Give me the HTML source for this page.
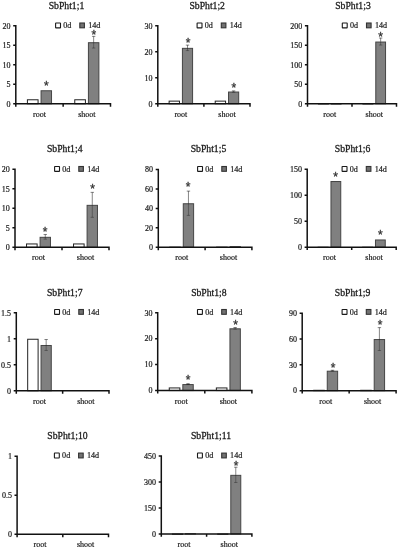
<!DOCTYPE html>
<html><head><meta charset="utf-8"><title>SbPht1 expression</title>
<style>
html,body{margin:0;padding:0;background:#fff;}
body{width:399px;height:550px;overflow:hidden;}
svg{display:block;}
text{font-family:"Liberation Serif","Times New Roman",serif;fill:#1a1a1a;stroke:#1a1a1a;stroke-width:0.2px;}
.t{font-size:9.7px;stroke-width:0.28px;}
.k{font-size:8px;}
.l{font-size:8.1px;}
.c{font-size:8px;}
.s{font-size:12px;font-family:"Liberation Sans",sans-serif;fill:#333;stroke:#333;stroke-width:0.3px;}
</style></head><body>
<svg width="399" height="550" viewBox="0 0 399 550">
<rect width="399" height="550" fill="#fff"/>
<g>
<text class="t" x="66.5" y="9" text-anchor="middle">SbPht1;1</text>
<rect x="27.41" y="99.77" width="10.66" height="3.98" fill="#fff" stroke="#222" stroke-width="1"/>
<rect x="41.07" y="90.76" width="10.46" height="12.99" fill="#808080" stroke="#454545" stroke-width="1"/>
<rect x="74.76" y="99.77" width="10.66" height="3.98" fill="#fff" stroke="#222" stroke-width="1"/>
<rect x="88.42" y="42.71" width="10.46" height="61.04" fill="#808080" stroke="#454545" stroke-width="1"/>
<path d="M93.65 36.36V42.21M91.95 36.36H95.35" stroke="#000" stroke-opacity="0.6" stroke-width="0.8" fill="none"/>
<path d="M93.65 42.21V48.06M91.95 48.06H95.35" stroke="#000" stroke-opacity="0.38" stroke-width="0.8" fill="none"/>
<path d="M15.8 25.75V103.75H110.5M13.2 103.75H16.55M13.2 84.25H16.55M13.2 64.75H16.55M13.2 45.25H16.55M13.2 25.75H16.55M15.8 103V106.65M63.15 103V106.65M110.5 103V106.65" stroke="#111" stroke-width="1.5" fill="none" stroke-linecap="butt" stroke-linejoin="miter"/>
<text class="k" x="10.6" y="106.5" text-anchor="end">0</text>
<text class="k" x="10.6" y="87" text-anchor="end">5</text>
<text class="k" x="10.6" y="67.5" text-anchor="end">10</text>
<text class="k" x="10.6" y="48" text-anchor="end">15</text>
<text class="k" x="10.6" y="28.5" text-anchor="end">20</text>
<text class="c" x="39.48" y="116.85" text-anchor="middle">root</text>
<text class="c" x="86.83" y="116.85" text-anchor="middle">shoot</text>
<rect x="55.6" y="22.95" width="4.9" height="4.9" rx="0.4" fill="#fff" stroke="#1a1a1a" stroke-width="1.1"/>
<text class="l" x="63.3" y="28.2">0d</text>
<rect x="79.8" y="23" width="4.6" height="4.8" fill="#727272" stroke="#333" stroke-width="1.1"/>
<text class="l" x="88.2" y="28.2">14d</text>
<text class="s" x="46.25" y="89.5" text-anchor="middle">*</text>
<text class="s" x="93.75" y="38.8" text-anchor="middle">*</text>
</g>
<g>
<text class="t" x="207.2" y="9" text-anchor="middle">SbPht1;2</text>
<rect x="169.12" y="101.13" width="10.36" height="2.62" fill="#fff" stroke="#222" stroke-width="1"/>
<rect x="182.42" y="48.35" width="10.16" height="55.4" fill="#808080" stroke="#454545" stroke-width="1"/>
<path d="M187.5 45.12V47.85M185.8 45.12H189.2" stroke="#000" stroke-opacity="0.6" stroke-width="0.8" fill="none"/>
<path d="M187.5 47.85V50.58M185.8 50.58H189.2" stroke="#000" stroke-opacity="0.38" stroke-width="0.8" fill="none"/>
<rect x="215.22" y="101.13" width="10.36" height="2.62" fill="#fff" stroke="#222" stroke-width="1"/>
<rect x="228.52" y="92.03" width="10.16" height="11.72" fill="#808080" stroke="#454545" stroke-width="1"/>
<path d="M233.6 90.88V91.53M231.9 90.88H235.3" stroke="#000" stroke-opacity="0.6" stroke-width="0.8" fill="none"/>
<path d="M233.6 91.53V92.18M231.9 92.18H235.3" stroke="#000" stroke-opacity="0.38" stroke-width="0.8" fill="none"/>
<path d="M157.8 25.75V103.75H250M155.2 103.75H158.55M155.2 77.75H158.55M155.2 51.75H158.55M155.2 25.75H158.55M157.8 103V106.65M203.9 103V106.65M250 103V106.65" stroke="#111" stroke-width="1.5" fill="none" stroke-linecap="butt" stroke-linejoin="miter"/>
<text class="k" x="152.6" y="106.5" text-anchor="end">0</text>
<text class="k" x="152.6" y="80.5" text-anchor="end">10</text>
<text class="k" x="152.6" y="54.5" text-anchor="end">20</text>
<text class="k" x="152.6" y="28.5" text-anchor="end">30</text>
<text class="c" x="180.85" y="116.85" text-anchor="middle">root</text>
<text class="c" x="226.95" y="116.85" text-anchor="middle">shoot</text>
<rect x="197.1" y="22.95" width="4.9" height="4.9" rx="0.4" fill="#fff" stroke="#1a1a1a" stroke-width="1.1"/>
<text class="l" x="204.8" y="28.2">0d</text>
<rect x="221.3" y="23" width="4.6" height="4.8" fill="#727272" stroke="#333" stroke-width="1.1"/>
<text class="l" x="229.7" y="28.2">14d</text>
<text class="s" x="188" y="46.8" text-anchor="middle">*</text>
<text class="s" x="233.8" y="92.4" text-anchor="middle">*</text>
</g>
<g>
<text class="t" x="353" y="9" text-anchor="middle">SbPht1;3</text>
<rect x="318.45" y="103.78" width="9.96" height="0.2" fill="#fff" stroke="#222" stroke-width="1"/>
<rect x="331.28" y="103.86" width="9.77" height="0.2" fill="#808080" stroke="#454545" stroke-width="1"/>
<rect x="362.95" y="103.78" width="9.96" height="0.2" fill="#fff" stroke="#222" stroke-width="1"/>
<rect x="375.78" y="42.04" width="9.77" height="61.71" fill="#808080" stroke="#454545" stroke-width="1"/>
<path d="M380.67 38.03V41.54M378.97 38.03H382.37" stroke="#000" stroke-opacity="0.6" stroke-width="0.8" fill="none"/>
<path d="M380.67 41.54V45.05M378.97 45.05H382.37" stroke="#000" stroke-opacity="0.38" stroke-width="0.8" fill="none"/>
<path d="M307.5 25.75V103.75H396.5M304.9 103.75H308.25M304.9 84.25H308.25M304.9 64.75H308.25M304.9 45.25H308.25M304.9 25.75H308.25M307.5 103V106.65M352 103V106.65M396.5 103V106.65" stroke="#111" stroke-width="1.5" fill="none" stroke-linecap="butt" stroke-linejoin="miter"/>
<text class="k" x="302.3" y="106.5" text-anchor="end">0</text>
<text class="k" x="302.3" y="87" text-anchor="end">50</text>
<text class="k" x="302.3" y="67.5" text-anchor="end">100</text>
<text class="k" x="302.3" y="48" text-anchor="end">150</text>
<text class="k" x="302.3" y="28.5" text-anchor="end">200</text>
<text class="c" x="329.75" y="116.85" text-anchor="middle">root</text>
<text class="c" x="374.25" y="116.85" text-anchor="middle">shoot</text>
<rect x="342.3" y="22.95" width="4.9" height="4.9" rx="0.4" fill="#fff" stroke="#1a1a1a" stroke-width="1.1"/>
<text class="l" x="350" y="28.2">0d</text>
<rect x="366.5" y="23" width="4.6" height="4.8" fill="#727272" stroke="#333" stroke-width="1.1"/>
<text class="l" x="374.9" y="28.2">14d</text>
<text class="s" x="380.5" y="40.7" text-anchor="middle">*</text>
</g>
<g>
<text class="t" x="64.75" y="152.3" text-anchor="middle">SbPht1;4</text>
<rect x="26.53" y="243.95" width="10.58" height="3.4" fill="#fff" stroke="#222" stroke-width="1"/>
<rect x="40.09" y="237.32" width="10.38" height="10.03" fill="#808080" stroke="#454545" stroke-width="1"/>
<path d="M45.28 234.48V236.82M43.58 234.48H46.98" stroke="#000" stroke-opacity="0.6" stroke-width="0.8" fill="none"/>
<path d="M45.28 236.82V239.16M43.58 239.16H46.98" stroke="#000" stroke-opacity="0.38" stroke-width="0.8" fill="none"/>
<rect x="73.53" y="243.95" width="10.58" height="3.4" fill="#fff" stroke="#222" stroke-width="1"/>
<rect x="87.09" y="205.34" width="10.38" height="42.01" fill="#808080" stroke="#454545" stroke-width="1"/>
<path d="M92.28 192.36V204.84M90.58 192.36H93.98" stroke="#000" stroke-opacity="0.6" stroke-width="0.8" fill="none"/>
<path d="M92.28 204.84V217.32M90.58 217.32H93.98" stroke="#000" stroke-opacity="0.38" stroke-width="0.8" fill="none"/>
<path d="M15 169.35V247.35H109M12.4 247.35H15.75M12.4 227.85H15.75M12.4 208.35H15.75M12.4 188.85H15.75M12.4 169.35H15.75M15 246.6V250.25M62 246.6V250.25M109 246.6V250.25" stroke="#111" stroke-width="1.5" fill="none" stroke-linecap="butt" stroke-linejoin="miter"/>
<text class="k" x="9.8" y="250.1" text-anchor="end">0</text>
<text class="k" x="9.8" y="230.6" text-anchor="end">5</text>
<text class="k" x="9.8" y="211.1" text-anchor="end">10</text>
<text class="k" x="9.8" y="191.6" text-anchor="end">15</text>
<text class="k" x="9.8" y="172.1" text-anchor="end">20</text>
<text class="c" x="38.5" y="260.45" text-anchor="middle">root</text>
<text class="c" x="85.5" y="260.45" text-anchor="middle">shoot</text>
<rect x="54.6" y="166.45" width="4.9" height="4.9" rx="0.4" fill="#fff" stroke="#1a1a1a" stroke-width="1.1"/>
<text class="l" x="62.3" y="171.7">0d</text>
<rect x="78.8" y="166.5" width="4.6" height="4.8" fill="#727272" stroke="#333" stroke-width="1.1"/>
<text class="l" x="87.2" y="171.7">14d</text>
<text class="s" x="45.2" y="236.3" text-anchor="middle">*</text>
<text class="s" x="92.5" y="192.8" text-anchor="middle">*</text>
</g>
<g>
<text class="t" x="208.5" y="152.3" text-anchor="middle">SbPht1;5</text>
<rect x="169.79" y="247.17" width="10.53" height="0.2" fill="#fff" stroke="#222" stroke-width="1"/>
<rect x="183.28" y="203.75" width="10.33" height="43.5" fill="#808080" stroke="#454545" stroke-width="1"/>
<path d="M188.45 191.11V203.25M186.75 191.11H190.15" stroke="#000" stroke-opacity="0.6" stroke-width="0.8" fill="none"/>
<path d="M188.45 203.25V215.39M186.75 215.39H190.15" stroke="#000" stroke-opacity="0.38" stroke-width="0.8" fill="none"/>
<rect x="216.59" y="247.17" width="10.53" height="0.2" fill="#fff" stroke="#222" stroke-width="1"/>
<rect x="230.08" y="246.68" width="10.33" height="0.57" fill="#808080" stroke="#454545" stroke-width="1"/>
<path d="M158.3 169.55V247.25H251.9M155.7 247.25H159.05M155.7 227.82H159.05M155.7 208.4H159.05M155.7 188.98H159.05M155.7 169.55H159.05M158.3 246.5V250.15M205.1 246.5V250.15M251.9 246.5V250.15" stroke="#111" stroke-width="1.5" fill="none" stroke-linecap="butt" stroke-linejoin="miter"/>
<text class="k" x="153.1" y="250" text-anchor="end">0</text>
<text class="k" x="153.1" y="230.57" text-anchor="end">20</text>
<text class="k" x="153.1" y="211.15" text-anchor="end">40</text>
<text class="k" x="153.1" y="191.73" text-anchor="end">60</text>
<text class="k" x="153.1" y="172.3" text-anchor="end">80</text>
<text class="c" x="181.7" y="260.35" text-anchor="middle">root</text>
<text class="c" x="228.5" y="260.35" text-anchor="middle">shoot</text>
<rect x="197.6" y="166.45" width="4.9" height="4.9" rx="0.4" fill="#fff" stroke="#1a1a1a" stroke-width="1.1"/>
<text class="l" x="205.3" y="171.7">0d</text>
<rect x="221.8" y="166.5" width="4.6" height="4.8" fill="#727272" stroke="#333" stroke-width="1.1"/>
<text class="l" x="230.2" y="171.7">14d</text>
<text class="s" x="188" y="190.8" text-anchor="middle">*</text>
</g>
<g>
<text class="t" x="352.6" y="152.3" text-anchor="middle">SbPht1;6</text>
<rect x="318.15" y="247.24" width="9.96" height="0.2" fill="#fff" stroke="#222" stroke-width="1"/>
<rect x="330.98" y="181.52" width="9.77" height="65.63" fill="#808080" stroke="#454545" stroke-width="1"/>
<rect x="362.65" y="247.24" width="9.96" height="0.2" fill="#fff" stroke="#222" stroke-width="1"/>
<rect x="375.48" y="239.97" width="9.77" height="7.18" fill="#808080" stroke="#454545" stroke-width="1"/>
<path d="M307.2 169.35V247.15H396.2M304.6 247.15H307.95M304.6 221.22H307.95M304.6 195.28H307.95M304.6 169.35H307.95M307.2 246.4V250.05M351.7 246.4V250.05M396.2 246.4V250.05" stroke="#111" stroke-width="1.5" fill="none" stroke-linecap="butt" stroke-linejoin="miter"/>
<text class="k" x="302" y="249.9" text-anchor="end">0</text>
<text class="k" x="302" y="223.97" text-anchor="end">50</text>
<text class="k" x="302" y="198.03" text-anchor="end">100</text>
<text class="k" x="302" y="172.1" text-anchor="end">150</text>
<text class="c" x="329.45" y="260.25" text-anchor="middle">root</text>
<text class="c" x="373.95" y="260.25" text-anchor="middle">shoot</text>
<rect x="342.1" y="166.45" width="4.9" height="4.9" rx="0.4" fill="#fff" stroke="#1a1a1a" stroke-width="1.1"/>
<text class="l" x="349.8" y="171.7">0d</text>
<rect x="366.3" y="166.5" width="4.6" height="4.8" fill="#727272" stroke="#333" stroke-width="1.1"/>
<text class="l" x="374.7" y="171.7">14d</text>
<text class="s" x="335.6" y="181.2" text-anchor="middle">*</text>
<text class="s" x="380.4" y="239.3" text-anchor="middle">*</text>
</g>
<g>
<text class="t" x="64.75" y="295.5" text-anchor="middle">SbPht1;7</text>
<rect x="27.68" y="339.25" width="10.42" height="51.5" fill="#fff" stroke="#222" stroke-width="1"/>
<rect x="41.05" y="345.49" width="10.22" height="45.26" fill="#808080" stroke="#454545" stroke-width="1"/>
<path d="M46.16 339.53V344.99M44.46 339.53H47.86" stroke="#000" stroke-opacity="0.6" stroke-width="0.8" fill="none"/>
<path d="M46.16 344.99V350.45M44.46 350.45H47.86" stroke="#000" stroke-opacity="0.38" stroke-width="0.8" fill="none"/>
<path d="M16.3 312.75V390.75H109M13.7 390.75H17.05M13.7 364.75H17.05M13.7 338.75H17.05M13.7 312.75H17.05M16.3 390V393.65M62.65 390V393.65M109 390V393.65" stroke="#111" stroke-width="1.5" fill="none" stroke-linecap="butt" stroke-linejoin="miter"/>
<text class="k" x="11.1" y="393.5" text-anchor="end">0</text>
<text class="k" x="11.1" y="367.5" text-anchor="end">0.5</text>
<text class="k" x="11.1" y="341.5" text-anchor="end">1</text>
<text class="k" x="11.1" y="315.5" text-anchor="end">1.5</text>
<text class="c" x="39.48" y="403.85" text-anchor="middle">root</text>
<text class="c" x="85.83" y="403.85" text-anchor="middle">shoot</text>
<rect x="54.6" y="309.45" width="4.9" height="4.9" rx="0.4" fill="#fff" stroke="#1a1a1a" stroke-width="1.1"/>
<text class="l" x="62.3" y="314.7">0d</text>
<rect x="78.8" y="309.5" width="4.6" height="4.8" fill="#727272" stroke="#333" stroke-width="1.1"/>
<text class="l" x="87.2" y="314.7">14d</text>
</g>
<g>
<text class="t" x="208.9" y="295.5" text-anchor="middle">SbPht1;8</text>
<rect x="169.26" y="387.94" width="10.6" height="2.61" fill="#fff" stroke="#222" stroke-width="1"/>
<rect x="182.84" y="384.57" width="10.4" height="5.98" fill="#808080" stroke="#454545" stroke-width="1"/>
<path d="M188.04 383.68V384.07M186.34 383.68H189.74" stroke="#000" stroke-opacity="0.6" stroke-width="0.8" fill="none"/>
<path d="M188.04 384.07V384.46M186.34 384.46H189.74" stroke="#000" stroke-opacity="0.38" stroke-width="0.8" fill="none"/>
<rect x="216.36" y="387.94" width="10.6" height="2.61" fill="#fff" stroke="#222" stroke-width="1"/>
<rect x="229.94" y="328.81" width="10.4" height="61.74" fill="#808080" stroke="#454545" stroke-width="1"/>
<path d="M235.14 327.53V328.31M233.44 327.53H236.84" stroke="#000" stroke-opacity="0.6" stroke-width="0.8" fill="none"/>
<path d="M235.14 328.31V329.09M233.44 329.09H236.84" stroke="#000" stroke-opacity="0.38" stroke-width="0.8" fill="none"/>
<path d="M157.7 312.75V390.55H251.9M155.1 390.55H158.45M155.1 364.62H158.45M155.1 338.68H158.45M155.1 312.75H158.45M157.7 389.8V393.45M204.8 389.8V393.45M251.9 389.8V393.45" stroke="#111" stroke-width="1.5" fill="none" stroke-linecap="butt" stroke-linejoin="miter"/>
<text class="k" x="152.5" y="393.3" text-anchor="end">0</text>
<text class="k" x="152.5" y="367.37" text-anchor="end">10</text>
<text class="k" x="152.5" y="341.43" text-anchor="end">20</text>
<text class="k" x="152.5" y="315.5" text-anchor="end">30</text>
<text class="c" x="181.25" y="403.65" text-anchor="middle">root</text>
<text class="c" x="228.35" y="403.65" text-anchor="middle">shoot</text>
<rect x="197.5" y="309.45" width="4.9" height="4.9" rx="0.4" fill="#fff" stroke="#1a1a1a" stroke-width="1.1"/>
<text class="l" x="205.2" y="314.7">0d</text>
<rect x="221.7" y="309.5" width="4.6" height="4.8" fill="#727272" stroke="#333" stroke-width="1.1"/>
<text class="l" x="230.1" y="314.7">14d</text>
<text class="s" x="188" y="384.4" text-anchor="middle">*</text>
<text class="s" x="235.6" y="328.8" text-anchor="middle">*</text>
</g>
<g>
<text class="t" x="352.6" y="295.5" text-anchor="middle">SbPht1;9</text>
<rect x="313.72" y="390.29" width="10.56" height="0.36" fill="#fff" stroke="#222" stroke-width="1"/>
<rect x="327.26" y="371.2" width="10.37" height="19.45" fill="#808080" stroke="#454545" stroke-width="1"/>
<path d="M332.45 370.27V370.7M330.75 370.27H334.15" stroke="#000" stroke-opacity="0.6" stroke-width="0.8" fill="none"/>
<path d="M332.45 370.7V371.13M330.75 371.13H334.15" stroke="#000" stroke-opacity="0.38" stroke-width="0.8" fill="none"/>
<rect x="360.67" y="390.29" width="10.56" height="0.36" fill="#fff" stroke="#222" stroke-width="1"/>
<rect x="374.21" y="339.55" width="10.37" height="51.1" fill="#808080" stroke="#454545" stroke-width="1"/>
<path d="M379.4 327.61V339.05M377.7 327.61H381.1" stroke="#000" stroke-opacity="0.6" stroke-width="0.8" fill="none"/>
<path d="M379.4 339.05V350.49M377.7 350.49H381.1" stroke="#000" stroke-opacity="0.38" stroke-width="0.8" fill="none"/>
<path d="M302.2 313.25V390.65H396.1M299.6 390.65H302.95M299.6 364.85H302.95M299.6 339.05H302.95M299.6 313.25H302.95M302.2 389.9V393.55M349.15 389.9V393.55M396.1 389.9V393.55" stroke="#111" stroke-width="1.5" fill="none" stroke-linecap="butt" stroke-linejoin="miter"/>
<text class="k" x="297" y="393.4" text-anchor="end">0</text>
<text class="k" x="297" y="367.6" text-anchor="end">30</text>
<text class="k" x="297" y="341.8" text-anchor="end">60</text>
<text class="k" x="297" y="316" text-anchor="end">90</text>
<text class="c" x="325.68" y="403.75" text-anchor="middle">root</text>
<text class="c" x="372.62" y="403.75" text-anchor="middle">shoot</text>
<rect x="342.1" y="309.45" width="4.9" height="4.9" rx="0.4" fill="#fff" stroke="#1a1a1a" stroke-width="1.1"/>
<text class="l" x="349.8" y="314.7">0d</text>
<rect x="366.3" y="309.5" width="4.6" height="4.8" fill="#727272" stroke="#333" stroke-width="1.1"/>
<text class="l" x="374.7" y="314.7">14d</text>
<text class="s" x="333" y="372.2" text-anchor="middle">*</text>
<text class="s" x="380" y="328.55" text-anchor="middle">*</text>
</g>
<g>
<text class="t" x="67.5" y="439" text-anchor="middle">SbPht1;10</text>
<path d="M17.1 456.25V534.25H108.5M14.5 534.25H17.85M14.5 495.25H17.85M14.5 456.25H17.85M17.1 533.5V537.15M62.8 533.5V537.15M108.5 533.5V537.15" stroke="#111" stroke-width="1.5" fill="none" stroke-linecap="butt" stroke-linejoin="miter"/>
<text class="k" x="11.9" y="537" text-anchor="end">0</text>
<text class="k" x="11.9" y="498" text-anchor="end">0.5</text>
<text class="k" x="11.9" y="459" text-anchor="end">1</text>
<text class="c" x="39.95" y="547.35" text-anchor="middle">root</text>
<text class="c" x="85.65" y="547.35" text-anchor="middle">shoot</text>
<rect x="54.4" y="453.05" width="4.9" height="4.9" rx="0.4" fill="#fff" stroke="#1a1a1a" stroke-width="1.1"/>
<text class="l" x="62.1" y="458.3">0d</text>
<rect x="78.6" y="453.1" width="4.6" height="4.8" fill="#727272" stroke="#333" stroke-width="1.1"/>
<text class="l" x="87" y="458.3">14d</text>
</g>
<g>
<text class="t" x="211" y="439" text-anchor="middle">SbPht1;11</text>
<rect x="172.43" y="534.02" width="10.16" height="0.2" fill="#fff" stroke="#222" stroke-width="1"/>
<rect x="185.5" y="533.76" width="9.97" height="0.2" fill="#808080" stroke="#454545" stroke-width="1"/>
<rect x="217.73" y="534.02" width="10.16" height="0.2" fill="#fff" stroke="#222" stroke-width="1"/>
<rect x="230.8" y="475.34" width="9.97" height="58.61" fill="#808080" stroke="#454545" stroke-width="1"/>
<path d="M235.78 467.22V474.84M234.08 467.22H237.48" stroke="#000" stroke-opacity="0.6" stroke-width="0.8" fill="none"/>
<path d="M235.78 474.84V482.47M234.08 482.47H237.48" stroke="#000" stroke-opacity="0.38" stroke-width="0.8" fill="none"/>
<path d="M161.3 455.95V533.95H251.9M158.7 533.95H162.05M158.7 507.95H162.05M158.7 481.95H162.05M158.7 455.95H162.05M161.3 533.2V536.85M206.6 533.2V536.85M251.9 533.2V536.85" stroke="#111" stroke-width="1.5" fill="none" stroke-linecap="butt" stroke-linejoin="miter"/>
<text class="k" x="156.1" y="536.7" text-anchor="end">0</text>
<text class="k" x="156.1" y="510.7" text-anchor="end">150</text>
<text class="k" x="156.1" y="484.7" text-anchor="end">300</text>
<text class="k" x="156.1" y="458.7" text-anchor="end">450</text>
<text class="c" x="183.95" y="547.05" text-anchor="middle">root</text>
<text class="c" x="229.25" y="547.05" text-anchor="middle">shoot</text>
<rect x="197.5" y="453.05" width="4.9" height="4.9" rx="0.4" fill="#fff" stroke="#1a1a1a" stroke-width="1.1"/>
<text class="l" x="205.2" y="458.3">0d</text>
<rect x="221.7" y="453.1" width="4.6" height="4.8" fill="#727272" stroke="#333" stroke-width="1.1"/>
<text class="l" x="230.1" y="458.3">14d</text>
<text class="s" x="236.2" y="470.4" text-anchor="middle">*</text>
</g>
</svg></body></html>
